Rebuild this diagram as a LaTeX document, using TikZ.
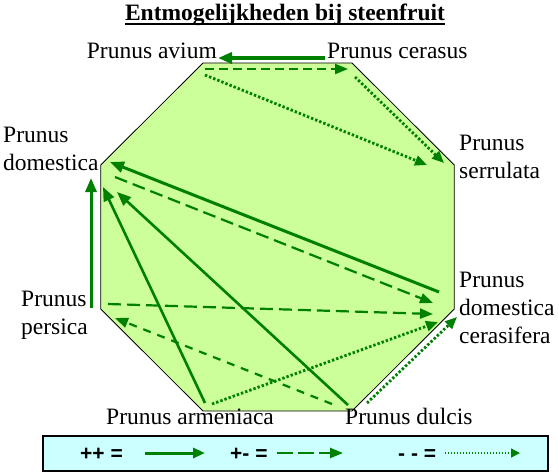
\documentclass[tikz,border=0pt]{standalone}
\usepackage{fontspec}
\setmainfont{Liberation Serif}
\newfontfamily\legendfont{Liberation Sans}
\usepackage{xcolor}
\usetikzlibrary{arrows.meta}

\definecolor{arrowgreen}{RGB}{0,128,0}
\definecolor{octfill}{RGB}{204,255,153}
\definecolor{legfill}{RGB}{204,255,255}

\begin{document}
\begin{tikzpicture}[x=1pt,y=-1pt]
\useasboundingbox (0,0) rectangle (559,475);

\tikzstyle{every node}=[inner sep=0pt,font=\fontsize{23.5}{28}\selectfont]
\tikzstyle{fruit}=[align=left]
\tikzstyle{legtext}=[anchor=base west,font=\legendfont\bfseries\fontsize{21}{24}\selectfont]
\tikzstyle{pp}=[arrowgreen,line width=3pt,-{Triangle[length=14pt,width=11pt]}]
\tikzstyle{pm}=[arrowgreen,line width=2.2pt,dash pattern=on 13pt off 6pt,-{Triangle[length=13pt,width=10pt]}]
\tikzstyle{mm}=[arrowgreen,line width=2.8pt,dash pattern=on 2.4pt off 2pt,-{Triangle[length=12pt,width=10pt]}]

%% Draw the octagon
\filldraw[fill=octfill,draw=black,line width=0.8pt]
    (203,63) -- (352,63) -- (454.3,165) -- (454.3,309) -- (352,411)
    -- (203,411) -- (100.7,309) -- (100.7,165) -- cycle;

%% Title
\node (title) [anchor=base,font=\bfseries\fontsize{23.5}{28}\selectfont] at (285,20) {Entmogelijkheden bij steenfruit};
\draw[line width=2pt] ([yshift=-4pt]title.base west) -- ([yshift=-4pt]title.base east);

%% Labels (base = last line)
\node (avium) [anchor=base east] at (217,58) {Prunus avium};
\node (cerasus) [anchor=base west] at (327,58) {Prunus cerasus};
\node (domestica) [fruit,anchor=base west] at (3,170) {Prunus\\domestica};
\node (serrulata) [fruit,anchor=base west] at (459,178) {Prunus\\serrulata};
\node (persica) [fruit,anchor=base west] at (21,334) {Prunus\\persica};
\node (cerasifera) [fruit,anchor=base west] at (459,343) {Prunus\\domestica\\cerasifera};
\node (armeniaca) [anchor=base west] at (106,424) {Prunus armeniaca};
\node (dulcis) [anchor=base west] at (345,424) {Prunus dulcis};

%% Arrow ends
\coordinate (cer1) at (325,58);  \coordinate (av1) at (218,58);
\coordinate (av2) at (205,69);   \coordinate (cer2) at (348,69);
\coordinate (av3) at (205,75);   \coordinate (ser1) at (427,165);
\coordinate (cer3) at (355,77);  \coordinate (ser2) at (444,163);
\coordinate (cf1) at (439,292);  \coordinate (do1) at (110,162);
\coordinate (do2) at (115,177);  \coordinate (cf2) at (433,303);
\coordinate (pe1) at (91,308);   \coordinate (pe2) at (91,178);
\coordinate (ar1) at (205,403);  \coordinate (do3) at (103,187);
\coordinate (du1) at (348,405);  \coordinate (do4) at (117,192);
\coordinate (pe3) at (108,304);  \coordinate (cf3) at (433,314);
\coordinate (du2) at (332,404);  \coordinate (pe4) at (115,318);
\coordinate (ar2) at (212,404);  \coordinate (cf4) at (438,322);
\coordinate (du3) at (367,403);  \coordinate (cf5) at (457,317);

%% Arrows
\draw [pp,line width=4pt] (cer1) -- (av1);
\draw [pm,dash pattern=on 9pt off 5pt] (av2) -- (cer2);
\draw [mm] (av3) -- (ser1);
\draw [mm] (cer3) -- (ser2);
\draw [pp] (cf1) -- (do1);
\draw [pm] (do2) -- (cf2);
\draw [pp] (pe1) -- (pe2);
\draw [pp,line width=2.6pt] (ar1) -- (do3);
\draw [pp,line width=2.6pt] (du1) -- (do4);
\draw [pm] (pe3) -- (cf3);
\draw [pm,dash pattern=on 8pt off 7pt] (du2) -- (pe4);
\draw [mm] (ar2) -- (cf4);
\draw [mm] (du3) -- (cf5);

%% Legend
\filldraw[fill=legfill,draw=black,line width=1.2pt] (43,436) rectangle (548,471);
\node (legpp) [legtext] at (80,460) {++ =};
\node (legpm) [legtext] at (230,460) {+- =};
\node (legmm) [legtext] at (398,460) {- - =};
\coordinate (lpp1) at (145,453); \coordinate (lpp2) at (205,453);
\coordinate (lpm1) at (277,453); \coordinate (lpm2) at (343,453);
\coordinate (lmm1) at (445,453); \coordinate (lmm2) at (520,453);
\draw [pp,-{Triangle[length=12pt,width=10pt]}] (lpp1) -- (lpp2);
\draw [pm,line width=2.4pt,dash pattern=on 16pt off 5pt] (lpm1) -- (lpm2);
\draw [arrowgreen,line width=1.3pt,dash pattern=on 1.3pt off 1.7pt,-{Triangle[length=9pt,width=9pt]}] (lmm1) -- (lmm2);
\end{tikzpicture}
\end{document}
